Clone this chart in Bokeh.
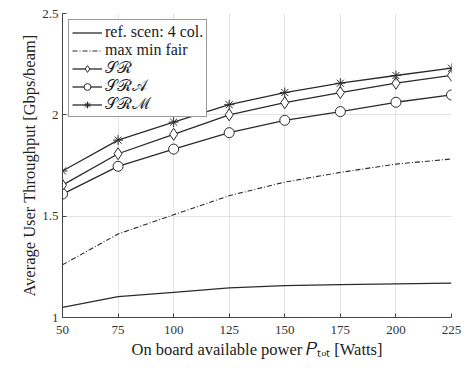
from bokeh.plotting import figure
from bokeh.models import FixedTicker, Legend, LegendItem
from bokeh.embed import file_html
from bokeh.resources import INLINE

power = [50, 75, 100, 125, 150, 175, 200, 225]
ref_scen = [1.050, 1.103, 1.124, 1.146, 1.157, 1.162, 1.166, 1.170]
max_min_fair = [1.260, 1.412, 1.507, 1.601, 1.668, 1.716, 1.757, 1.782]
sr = [1.653, 1.808, 1.904, 2.000, 2.060, 2.110, 2.156, 2.195]
sra = [1.609, 1.746, 1.831, 1.912, 1.973, 2.016, 2.062, 2.098]
srm = [1.723, 1.875, 1.964, 2.050, 2.110, 2.156, 2.194, 2.230]

y_ticks = [1, 1.5, 2, 2.5]
y_tick_labels = ["1", "1.5", "2", "2.5"]
x_ticks = power

FONT = "Liberation Serif"
LC = "#2b2b2b"

p = figure(width=466, height=363, output_backend="svg", toolbar_location=None,
           x_range=(50, 225), y_range=(1, 2.5),
           min_border_left=62, min_border_right=15, min_border_top=13, min_border_bottom=46)
p.outline_line_color = None

r_ref = p.line(power, ref_scen, line_color=LC, line_width=1.3)
r_mmf = p.line(power, max_min_fair, line_color=LC, line_width=1.1, line_dash="5 2 1 2")
r_sr_l = p.line(power, sr, line_color=LC, line_width=1.3)
r_sr_m = p.scatter(power, sr, marker="diamond", size=12, fill_color="white", line_color=LC, line_width=1)
r_sra_l = p.line(power, sra, line_color=LC, line_width=1.3)
r_sra_m = p.scatter(power, sra, marker="circle", size=10, fill_color="white", line_color=LC, line_width=1)
r_srm_l = p.line(power, srm, line_color=LC, line_width=1.3)
r_srm_m = p.scatter(power, srm, marker="asterisk", size=10, line_color=LC, line_width=1)

legend = Legend(items=[
    LegendItem(label="ref. scen: 4 col.", renderers=[r_ref]),
    LegendItem(label="max min fair", renderers=[r_mmf]),
    LegendItem(label="\U0001D4AE\u211B", renderers=[r_sr_l, r_sr_m]),
    LegendItem(label="\U0001D4AE\u211B\U0001D49C", renderers=[r_sra_l, r_sra_m]),
    LegendItem(label="\U0001D4AE\u211B\u2133", renderers=[r_srm_l, r_srm_m]),
], location="top_left")
legend.margin = 6
legend.padding = 3
legend.spacing = 0
legend.glyph_height = 17
legend.glyph_width = 30
legend.label_standoff = 3
legend.label_height = 17
legend.label_width = 96
legend.label_text_font = FONT
legend.label_text_font_size = "16px"
legend.label_text_color = "#222222"
legend.border_line_color = "#333333"
legend.border_line_width = 1
legend.background_fill_alpha = 1
p.add_layout(legend)

p.xaxis.ticker = FixedTicker(ticks=x_ticks)
p.yaxis.ticker = FixedTicker(ticks=y_ticks)
p.yaxis.major_label_overrides = {t: l for t, l in zip(y_ticks, y_tick_labels)}

for ax in (p.xaxis, p.yaxis):
    ax.axis_line_color = "#444444"
    ax.major_tick_line_color = "#444444"
    ax.major_tick_in = 4
    ax.major_tick_out = 0
    ax.minor_tick_line_color = None
    ax.major_label_text_font = FONT
    ax.major_label_text_font_size = "13px"
    ax.major_label_text_color = "#333333"
    ax.axis_label_text_font = FONT
    ax.axis_label_text_font_size = "16.5px"
    ax.axis_label_text_font_style = "normal"
    ax.axis_label_text_color = "#222222"

p.xaxis.major_label_standoff = 8
p.yaxis.major_label_standoff = 4
p.xaxis.axis_label = "On board available power \U0001D443\u209C\u2092\u209C [Watts]"
p.yaxis.axis_label = "Average User Throughput [Gbps/beam]"
p.xaxis.axis_label_standoff = 3
p.yaxis.axis_label_standoff = 0

p.xgrid.grid_line_color = "#e3e3e3"
p.ygrid.grid_line_color = "#e3e3e3"

open("out.html", "w").write(file_html(p, INLINE))
